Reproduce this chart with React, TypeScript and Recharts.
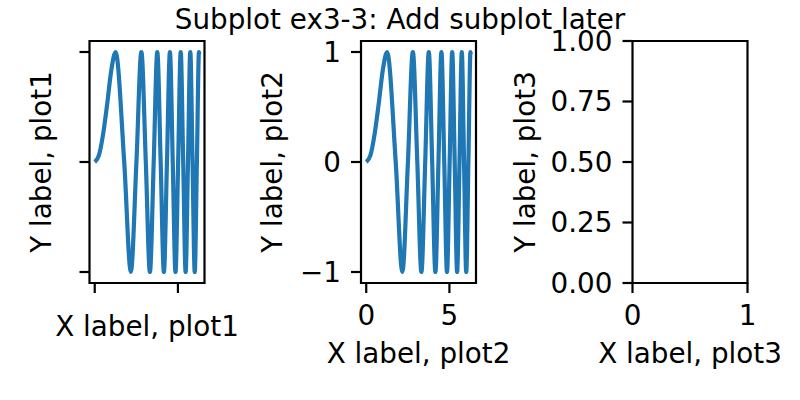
import { LineChart, Line, XAxis, YAxis, ReferenceArea } from "recharts";

// sin(x^2) curve: start, peaks, zero crossings and troughs
const curveX = [
  0, 0.25, 0.5, 0.75, 1.0, 1.2533, 1.7725, 2.1708, 2.5066, 2.8025, 3.07, 3.316, 3.5449, 3.7599,
  3.9633, 4.1568, 4.3416, 4.5189, 4.6895, 4.8541, 5.0133, 5.1675, 5.3174, 5.463, 5.605, 5.7434,
  5.8785, 6.0106, 6.14, 6.2666, 6.2832,
];
const curveY = [
  0, 0.06, 0.25, 0.53, 0.84, 1, 0, -1, 0, 1, 0, -1, 0, 1, 0, -1, 0, 1, 0, -1, 0, 1, 0, -1, 0, 1, 0,
  -1, 0, 1, 0.98,
];

const sineXDomain = [-0.3142, 6.5974];
const sineYDomain = [-1.1, 1.1];
const sineXTicks = [0, 5];
const sineYTicks = [-1, 0, 1];

const emptyXTicks = [0, 1];
const emptyYTicks = [0, 0.25, 0.5, 0.75, 1];

const title = "Subplot ex3-3: Add subplot later";
const xLabels = ["X label, plot1", "X label, plot2", "X label, plot3"];
const yLabels = ["Y label, plot1", "Y label, plot2", "Y label, plot3"];

const curve = curveX.map((x, i) => ({ x, y: curveY[i] }));

const W = 800;
const H = 400;
const TOP = 41;
const BOTTOM = 283;
const YW = 90;
const XH = 60;
const FONT = "DejaVu Sans, sans-serif";
const FS = 27.8;
const SPINE = 2.2;
const BLUE = "#1f77b4";

const fmtMinus = (v: number) => (v < 0 ? `\u2212${Math.abs(v)}` : `${v}`);

type PanelProps = {
  left: number;
  right: number;
  data: { x: number; y: number }[];
  xDomain: number[];
  yDomain: number[];
  xTicks: number[];
  yTicks: number[];
  showTickLabels: boolean;
  yFmt: (v: number) => string;
  xLabel: string;
  xLabelY: number;
  yLabel: string;
  yLabelX: number;
  children?: React.ReactNode;
};

function Panel(p: PanelProps) {
  const tickStyle = { fill: "#000", fontSize: FS, fontFamily: FONT };
  return (
    <div style={{ position: "absolute", left: 0, top: 0 }}>
      <LineChart
        width={W}
        height={H}
        data={p.data}
        margin={{ left: p.left - YW, right: W - p.right, top: TOP, bottom: H - BOTTOM - XH }}
      >
        <XAxis
          type="number"
          dataKey="x"
          domain={p.xDomain}
          ticks={p.xTicks}
          allowDataOverflow
          height={XH}
          tickSize={10}
          tickMargin={12}
          tick={tickStyle}
          tickFormatter={(v) => (p.showTickLabels ? fmtMinus(v) : "")}
          axisLine={false}
          tickLine={{ stroke: "#000", strokeWidth: SPINE }}
          interval={0}
        />
        <YAxis
          type="number"
          dataKey="y"
          domain={p.yDomain}
          ticks={p.yTicks}
          allowDataOverflow
          width={YW}
          tickSize={10}
          tickMargin={10}
          tick={tickStyle}
          tickFormatter={(v) => (p.showTickLabels ? p.yFmt(v) : "")}
          axisLine={false}
          tickLine={{ stroke: "#000", strokeWidth: SPINE }}
          interval={0}
        />
        {p.data.length > 0 && (
          <Line
            type="monotone"
            dataKey="y"
            stroke={BLUE}
            strokeWidth={4.2}
            dot={false}
            activeDot={false}
            strokeLinejoin="round"
            isAnimationActive={false}
          />
        )}
        <ReferenceArea
          x1={p.xDomain[0]}
          x2={p.xDomain[1]}
          y1={p.yDomain[0]}
          y2={p.yDomain[1]}
          fill="none"
          fillOpacity={0}
          stroke="#000"
          strokeWidth={SPINE}
          strokeOpacity={1}
          ifOverflow="visible"
        />
        <text
          x={(p.left + p.right) / 2}
          y={p.xLabelY}
          textAnchor="middle"
          fontFamily={FONT}
          fontSize={FS}
          fill="#000"
        >
          {p.xLabel}
        </text>
        <text
          x={p.yLabelX}
          y={(TOP + BOTTOM) / 2}
          textAnchor="middle"
          fontFamily={FONT}
          fontSize={FS}
          fill="#000"
          transform={`rotate(-90 ${p.yLabelX} ${(TOP + BOTTOM) / 2})`}
        >
          {p.yLabel}
        </text>
        {p.children}
      </LineChart>
    </div>
  );
}

export default function App() {
  return (
    <div style={{ position: "absolute", left: 0, top: 0, width: W, height: H, background: "#fff" }}>
      <Panel
        left={89.5}
        right={204.5}
        data={curve}
        xDomain={sineXDomain}
        yDomain={sineYDomain}
        xTicks={sineXTicks}
        yTicks={sineYTicks}
        showTickLabels={false}
        yFmt={fmtMinus}
        xLabel={xLabels[0]}
        xLabelY={336}
        yLabel={yLabels[0]}
        yLabelX={50.5}
      >
        <text x={400} y={28.5} textAnchor="middle" fontFamily={FONT} fontSize={FS} fill="#000">
          {title}
        </text>
      </Panel>
      <Panel
        left={361}
        right={476}
        data={curve}
        xDomain={sineXDomain}
        yDomain={sineYDomain}
        xTicks={sineXTicks}
        yTicks={sineYTicks}
        showTickLabels
        yFmt={fmtMinus}
        xLabel={xLabels[1]}
        xLabelY={363}
        yLabel={yLabels[1]}
        yLabelX={281.5}
      />
      <Panel
        left={632.5}
        right={747.5}
        data={[]}
        xDomain={[0, 1]}
        yDomain={[0, 1]}
        xTicks={emptyXTicks}
        yTicks={emptyYTicks}
        showTickLabels
        yFmt={(v) => v.toFixed(2)}
        xLabel={xLabels[2]}
        xLabelY={363}
        yLabel={yLabels[2]}
        yLabelX={535}
      />
    </div>
  );
}
